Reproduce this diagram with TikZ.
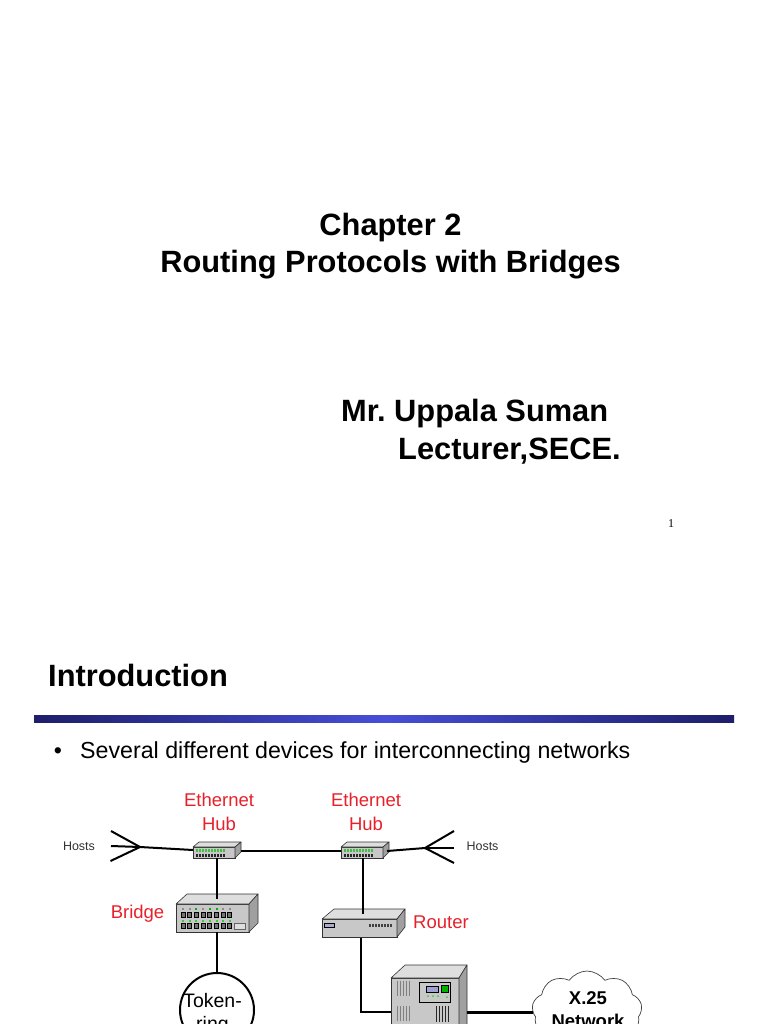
\documentclass[tikz,border=0pt]{standalone}
\usepackage{fontspec}
\setmainfont{Liberation Sans}
\usetikzlibrary{shapes.symbols}
\definecolor{labelred}{RGB}{232,32,42}
\definecolor{facegray}{RGB}{200,200,200}
\definecolor{topgray}{RGB}{222,222,222}
\definecolor{sidegray}{RGB}{160,160,160}
\definecolor{bardark}{RGB}{30,30,105}
\definecolor{barlight}{RGB}{70,78,215}
\newcommand{\sz}[1]{\fontsize{#1}{#1}\selectfont}
\frenchspacing
\begin{document}
\begin{tikzpicture}[x=1pt,y=-1pt]

% definitions
\tikzstyle{heading} = [inner sep=0pt, font=\bfseries\sz{30.8}, align=center]
\tikzstyle{devlabel} = [inner sep=0pt, text=labelred, font=\sz{18.5}, align=center]
\tikzstyle{hostlabel} = [inner sep=0pt, text=black!80, font=\sz{12.5}]
\tikzstyle{front} = [rectangle, inner sep=0pt, draw=black!80, fill=facegray, line width=0.6pt]
\tikzstyle{face} = [draw=black!80, line width=0.6pt, line join=round]
\tikzstyle{wire} = [line width=2pt, black]
\tikzstyle{ring} = [circle, draw=black, fill=white, line width=2pt, minimum size=74pt, inner sep=0pt]
\tikzstyle{netcloud} = [cloud, cloud puffs=9, cloud puff arc=110, draw=black!75, fill=white, line width=0.7pt, minimum width=110pt, minimum height=80pt, inner sep=0pt]

\clip (0,0) rectangle (768,1024);
\fill[white] (0,0) rectangle (768,1024);

% the first slide
\node (title) [heading] at (390.5,246) {Chapter 2\\[5.5pt]Routing Protocols with Bridges};
\node (speaker) [heading, anchor=west] at (341,413.5) {Mr. Uppala Suman};
\node (place) [heading, anchor=west] at (398,451) {Lecturer,SECE.};
\node (pageno) [inner sep=0pt, font=\fontspec{Liberation Serif}\sz{12}] at (671,524) {1};

% the second slide
\node (intro) [inner sep=0pt, anchor=west, font=\bfseries\sz{30.8}] at (48,675.5) {Introduction};
\shade[left color=bardark, right color=barlight, shading angle=90] (34,715) rectangle (384,722.5);
\shade[left color=barlight, right color=bardark, shading angle=90] (384,715) rectangle (734,722.5);
\node (bullet) [inner sep=0pt, font=\sz{23.2}] at (58,753) {•};
\node (several) [inner sep=0pt, anchor=west, font=\sz{23.2}] at (80,752) {Several different devices for interconnecting networks};

% the devices
\node (hubone) [front, minimum width=42pt, minimum height=11pt] at (214,852.5) {};
\node (hubtwo) [front, minimum width=42pt, minimum height=11pt] at (362,852.5) {};
\node (bridge) [front, minimum width=73pt, minimum height=28pt] at (212.5,918) {};
\node (router) [front, minimum width=75pt, minimum height=18pt] at (359.5,928) {};
\node (server) [front, minimum width=68pt, minimum height=70pt] at (425,1013) {};

\foreach \devx in {193,341} {
  \filldraw[face, fill=topgray] (\devx,847) -- (\devx+6,842) -- (\devx+48,842) -- (\devx+42,847) -- cycle;
  \filldraw[face, fill=sidegray] (\devx+42,847) -- (\devx+48,842) -- (\devx+48,852) -- (\devx+42,858) -- cycle;
  \foreach \i in {0,...,9} {
    \fill[black!85] (\devx+3+3*\i,853.5) rectangle ++(2,3.5);
    \fill[green!50!gray] (\devx+3+3*\i,849) rectangle ++(2,3);
  }
}
\filldraw[face, fill=topgray] (176,904) -- (187,894) -- (258,894) -- (249,904) -- cycle;
\filldraw[face, fill=sidegray] (249,904) -- (258,894) -- (258,923) -- (249,932) -- cycle;
\foreach \i in {0,...,7} {
  \filldraw[fill=black!55, draw=black, line width=1pt] (181+6.7*\i,912.5) rectangle ++(4,5);
  \filldraw[fill=black!55, draw=black, line width=1pt] (181+6.7*\i,923.5) rectangle ++(4,5);
  \fill[black!45] (182+6.7*\i,907.5) rectangle ++(2,2);
  \fill[green!60!gray] (182+6.7*\i,919.5) rectangle ++(2,2);
}
\foreach \i in {2,4,5} \fill[green!70!black] (182+6.7*\i,907.5) rectangle ++(2,2);
\filldraw[fill=facegray!60, draw=black!60, line width=0.5pt] (234,923) rectangle (245,929);

\filldraw[face, fill=topgray] (322,919) -- (334,909) -- (405,909) -- (397,919) -- cycle;
\filldraw[face, fill=sidegray] (397,919) -- (405,909) -- (405,927) -- (397,937) -- cycle;
\filldraw[fill=blue!15!facegray, draw=black, line width=0.6pt] (324,923) rectangle (334,927);
\foreach \i in {0,...,7} {
  \fill[black!75] (369+3*\i,923.5) rectangle ++(2,3);
}

\filldraw[face, fill=topgray] (391,978) -- (405,965) -- (467,965) -- (459,978) -- cycle;
\filldraw[face, fill=sidegray] (459,978) -- (467,965) -- (467,1030) -- (459,1030) -- cycle;
\filldraw[fill=facegray, draw=black, line width=0.8pt] (419.5,982) rectangle (450,1002);
\filldraw[fill=blue!20!facegray, draw=black, line width=0.6pt] (426,986) rectangle (438,992);
\filldraw[fill=green!70!black, draw=black, line width=0.6pt] (441,985) rectangle (448,992);
\foreach \i in {0,1,2} \fill[green!70!gray] (428+5*\i,996) circle (1pt);
\fill[green!70!gray] (447,997) circle (1pt);
\foreach \i in {0,...,4} {
  \fill[black!50] (397+3*\i,981) rectangle ++(1,15);
  \fill[black!50] (397+3*\i,1006) rectangle ++(1,15);
  \fill[black!85] (436+3*\i,1006) rectangle ++(1.3,16);
}

\node (ringnet) [ring] at (217,1010) {};
\node (tokentext) [inner sep=0pt, align=center, font=\sz{19.5}] at (212.5,1014) {Token-\\[3.5pt]ring};
\node (cloudnet) [netcloud] at (587,1011) {};
\node (cloudtext) [inner sep=0pt, align=center, font=\bfseries\sz{18.5}] at (588,1009.5) {X.25\\[4.5pt]Network};

% the labels
\node (hublabelone) [devlabel] at (219,811.5) {Ethernet\\[5.5pt]Hub};
\node (hublabeltwo) [devlabel] at (366,811.5) {Ethernet\\[5.5pt]Hub};
\node (bridgelabel) [devlabel] at (137.5,914) {Bridge};
\node (routerlabel) [devlabel] at (441,922.5) {Router};
\node (hostsleft) [hostlabel] at (79,846.5) {Hosts};
\node (hostsright) [hostlabel] at (482.5,846.5) {Hosts};

% the connectors
\coordinate (hubleftport) at (193,850);
\coordinate (hubrightport) at (241,851);
\coordinate (hubtwoleft) at (341,851);
\coordinate (hubtworight) at (387,851);
\coordinate (leftjoin) at (140,847);
\coordinate (rightjoin) at (425,848);
\coordinate (bridgetop) at (217,899);
\coordinate (hubonedown) at (217,858);
\coordinate (bridgedown) at (217,932);
\coordinate (hubtwodown) at (363,858);
\coordinate (routertop) at (363,914);
\coordinate (routerdown) at (361,938);
\coordinate (serverleft) at (391,1012);
\coordinate (serverright) at (467,1012);
\coordinate (cloudleft) at (533,1012);

\draw [wire] (hubleftport) -- (leftjoin);
\foreach \endx/\endy in {111/831,111/846,110.5/861} {
  \coordinate (spoke) at (\endx,\endy);
  \draw [wire] (leftjoin) -- (spoke);
}
\draw [wire] (hubtworight) -- (rightjoin);
\foreach \endx/\endy in {454/831,454/848,454/863} {
  \coordinate (spoke) at (\endx,\endy);
  \draw [wire] (rightjoin) -- (spoke);
}
\draw [wire] (hubrightport) -- (hubtwoleft);
\draw [wire] (hubonedown) -- (bridgetop);
\draw [wire] (bridgedown) -- (ringnet.north);
\draw [wire] (hubtwodown) -- (routertop);
\draw [wire] (routerdown) |- (serverleft);
\draw [line width=3pt] (serverright) -- (cloudleft);

\end{tikzpicture}
\end{document}
